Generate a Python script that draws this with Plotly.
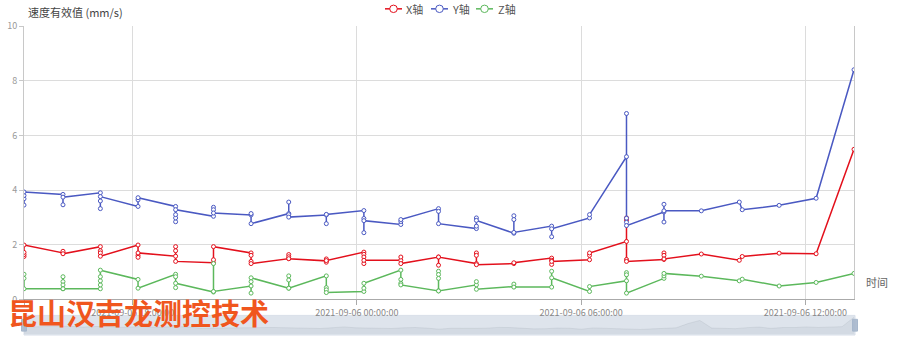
import plotly.graph_objects as go

# ---------------- data ----------------
group_times = [
    "2021-09-05 15:05:23", "2021-09-05 16:08:00", "2021-09-05 17:08:00",
    "2021-09-05 18:08:30", "2021-09-05 19:08:50", "2021-09-05 20:09:40",
    "2021-09-05 21:10:00", "2021-09-05 22:10:30", "2021-09-05 23:10:50",
    "2021-09-06 00:11:10", "2021-09-06 01:10:30", "2021-09-06 02:11:00",
    "2021-09-06 03:11:50", "2021-09-06 04:12:00", "2021-09-06 05:12:40",
    "2021-09-06 06:13:30", "2021-09-06 07:12:50", "2021-09-06 08:13:00",
    "2021-09-06 09:13:00", "2021-09-06 10:14:00", "2021-09-06 10:18:40",
    "2021-09-06 11:18:00", "2021-09-06 12:17:20", "2021-09-06 13:18:10",
]

x_axis_values = [
    [1.57, 1.64, 1.72, 1.99], [1.70, 1.76, 1.67], [1.93, 1.78, 1.70, 1.58],
    [1.99, 1.61, 1.54, 1.70], [1.58, 1.93, 1.78, 1.39], [1.34, 1.45, 1.93],
    [1.70, 1.61, 1.39, 1.31], [1.49, 1.64, 1.56, 1.49], [1.41, 1.48, 1.36, 1.42],
    [1.73, 1.65, 1.55, 1.31, 1.43], [1.43, 1.55, 1.31], [1.55, 1.25, 1.55],
    [1.31, 1.70, 1.61, 1.27], [1.31, 1.34], [1.51, 1.43, 1.28, 1.39],
    [1.45, 1.61, 1.70], [2.12, 2.98, 2.90, 1.46, 1.39], [1.46, 1.70, 1.61, 1.48],
    [1.66], [1.43], [1.57], [1.69], [1.67], [5.49],
]

y_axis_values = [
    [3.45, 3.68, 3.80, 3.93], [3.84, 3.46, 3.74], [3.90, 3.32, 3.60, 3.76],
    [3.40, 3.64, 3.72], [3.40, 2.84, 2.98, 3.10, 3.28], [3.04, 3.37, 3.28, 3.16],
    [3.09, 3.14, 2.77], [3.14, 3.56, 3.10, 3.01], [3.09, 2.77, 3.11],
    [3.25, 2.96, 2.44, 2.88], [2.74, 2.85, 2.92], [3.32, 3.22, 2.77],
    [2.59, 2.68, 2.98, 2.89], [2.42, 3.06, 2.92, 2.45], [2.68, 2.29, 2.58],
    [2.98, 3.10], [5.22, 6.80, 2.97, 2.82, 2.70], [3.20, 3.48, 2.83, 3.24],
    [3.24], [3.56], [3.28], [3.44], [3.70], [8.40],
]

z_axis_values = [
    [0.92, 0.77, 0.39], [0.39, 0.83, 0.65, 0.53, 0.39], [0.39, 0.53, 0.68, 0.83, 1.07],
    [0.73, 0.41], [0.92, 0.83, 0.43, 0.59], [0.27, 1.31, 0.29],
    [0.49, 0.23, 0.65, 0.79], [0.41, 0.86, 0.71, 0.41], [0.86, 0.43, 0.35, 0.25],
    [0.29, 0.41, 0.59], [1.07, 0.73, 0.59, 0.53], [0.31, 1.03, 0.91, 0.77, 0.31],
    [0.53, 0.65, 0.37], [0.47, 0.56, 0.45], [0.45, 1.03, 0.79],
    [0.29, 0.47], [0.68, 0.98, 0.90, 0.23], [0.77, 0.86, 0.95],
    [0.85], [0.68], [0.74], [0.49], [0.62], [0.95],
]

series_names = ["X轴", "Y轴", "Z轴"]
series_colors = ["#e3101c", "#4a59c2", "#5cb85c"]

tick_times = ["2021-09-05 15:05:23", "2021-09-05 18:00:00", "2021-09-06 00:00:00",
              "2021-09-06 06:00:00", "2021-09-06 12:00:00"]
tick_labels = ["2021-09-05 15:05:23", "2021-09-05 18:00:00", "2021-09-06 00:00:00",
               "2021-09-06 06:00:00", "2021-09-06 12:00:00"]
y_ticks = [0, 2, 4, 6, 8, 10]

FONT = "Noto Sans CJK SC, Noto Sans, sans-serif"


def expand(groups):
    xs, vs = [], []
    for t, g in zip(group_times, groups):
        for v in g:
            xs.append(t)
            vs.append(v)
    return xs, vs


# pixel -> paper helpers (plot area: x 24..854, y 26..342)
def px(x):
    return (x - 24) / 830.0


def py(y):
    return (342 - y) / 316.0


fig = go.Figure()

for name, color, groups in zip(series_names, series_colors,
                               [x_axis_values, y_axis_values, z_axis_values]):
    xs, vs = expand(groups)
    fig.add_trace(go.Scatter(
        x=xs, y=vs, name=name, mode="lines+markers",
        line=dict(color=color, width=1.5),
        marker=dict(symbol="circle", size=4, color="white",
                    line=dict(color=color, width=1)),
        showlegend=False, xaxis="x", yaxis="y",
    ))

# data shadow in the zoom slider (index based)
_, shadow_vals = expand(y_axis_values)
fig.add_trace(go.Scatter(
    x=list(range(len(shadow_vals))), y=shadow_vals, mode="lines",
    line=dict(color="rgba(47,69,84,0.15)", width=0.5),
    fill="tozeroy", fillcolor="rgba(47,69,84,0.06)",
    showlegend=False, xaxis="x2", yaxis="y2", hoverinfo="skip",
))

shapes = []
# slider background
shapes.append(dict(type="rect", xref="paper", yref="paper",
                   x0=px(24), x1=px(855), y0=py(341), y1=py(321),
                   fillcolor="rgba(167,183,204,0.38)", line=dict(color="#d8dfe9", width=1),
                   layer="below"))
for hx in (24, 855):
    shapes.append(dict(type="rect", xref="paper", yref="paper",
                       x0=px(hx - 2.5), x1=px(hx + 2.5), y0=py(337), y1=py(325),
                       fillcolor="rgba(167,183,204,0.9)", line=dict(color="#a7b7cc", width=1)))

# custom legend
legend_centers = [393.5, 439.5, 484.5]
legend_text_x = [404, 450, 496]
annotations = []
for cx, tx, name, color in zip(legend_centers, legend_text_x, series_names, series_colors):
    shapes.append(dict(type="line", xref="paper", yref="paper",
                       x0=px(cx - 8.5), x1=px(cx + 8.5), y0=py(8.5), y1=py(8.5),
                       line=dict(color=color, width=1.5)))
    shapes.append(dict(type="circle", xref="paper", yref="paper",
                       x0=px(cx - 3.8), x1=px(cx + 3.8), y0=py(12.3), y1=py(4.7),
                       fillcolor="white", line=dict(color=color, width=1)))
    annotations.append(dict(text=name, xref="paper", yref="paper", x=px(tx), y=py(8.5),
                            xanchor="left", yanchor="middle", showarrow=False,
                            font=dict(family=FONT, size=11, color="#555")))

annotations.append(dict(text="速度有效值 (mm/s)", xref="paper", yref="paper",
                        x=px(26), y=py(12), xanchor="left", yanchor="middle",
                        showarrow=False, font=dict(family=FONT, size=11, color="#444")))
annotations.append(dict(text="时间", xref="paper", yref="paper",
                        x=px(864), y=py(287), xanchor="left", yanchor="middle",
                        showarrow=False, font=dict(family=FONT, size=11, color="#666")))
annotations.append(dict(text="<b>昆山汉吉龙测控技术</b>", xref="paper", yref="paper",
                        x=px(6), y=py(318), xanchor="left", yanchor="middle",
                        showarrow=False, font=dict(family=FONT, size=29, color="#f0561e")))

fig.update_layout(
    width=899, height=346,
    margin=dict(l=24, r=45, t=26, b=4),
    paper_bgcolor="white", plot_bgcolor="white",
    font=dict(family=FONT, size=9, color="#888"),
    shapes=shapes, annotations=annotations,
    showlegend=False,
    xaxis=dict(
        type="date", range=[group_times[0], group_times[-1]],
        tickvals=tick_times, ticktext=tick_labels,
        showgrid=True, gridcolor="#dcdcdc", gridwidth=1,
        showline=True, linecolor="#aaa", linewidth=1,
        ticks="outside", ticklen=5, tickcolor="#aaa",
        tickfont=dict(family=FONT, size=9, color="#888"),
        zeroline=False, anchor="y",
    ),
    yaxis=dict(
        domain=[py(304.7), 1], range=[0, 10], tickvals=y_ticks,
        showgrid=True, gridcolor="#dcdcdc", gridwidth=1,
        showline=True, linecolor="#c8c8c8", linewidth=1, mirror=True,
        ticks="outside", ticklen=4, tickcolor="#c8c8c8",
        tickfont=dict(family=FONT, size=9, color="#999"),
        zeroline=False, anchor="x",
    ),
    xaxis2=dict(domain=[0, 1], range=[0, len(shadow_vals) - 1], visible=False,
                anchor="y2"),
    yaxis2=dict(domain=[py(340), py(322)], range=[0, max(shadow_vals) * 1.05],
                visible=False, anchor="x2"),
)

fig.write_html("out.html")
